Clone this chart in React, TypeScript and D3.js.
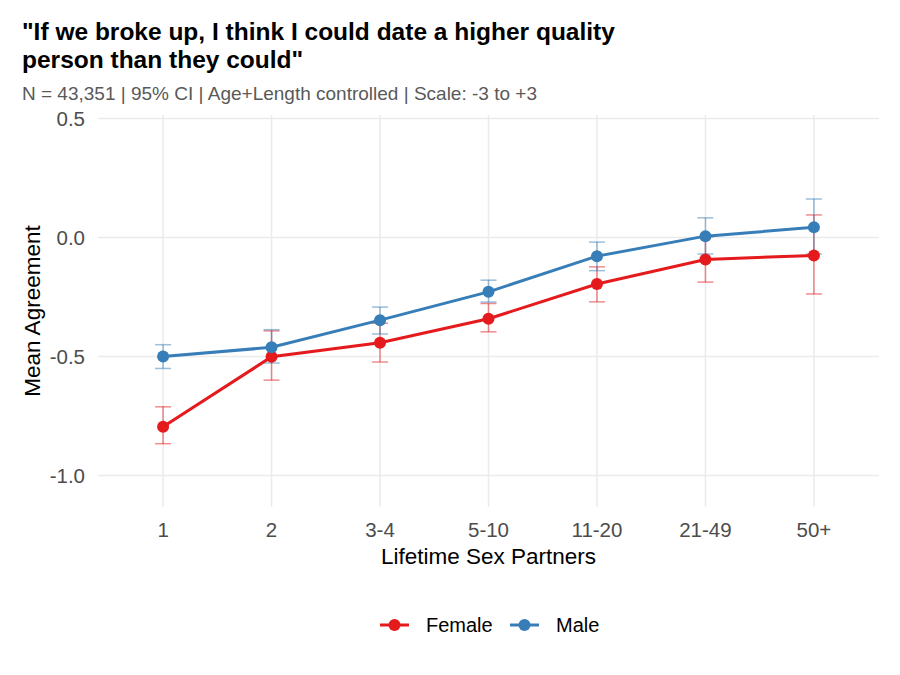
import * as d3 from "d3";
import { useEffect, useRef } from "react";

const partnerBins = ["1", "2", "3-4", "5-10", "11-20", "21-49", "50+"];
const femaleMean = [-0.795, -0.501, -0.442, -0.341, -0.195, -0.092, -0.075];
const femaleLow = [-0.866, -0.599, -0.523, -0.396, -0.27, -0.187, -0.237];
const femaleHigh = [-0.711, -0.392, -0.36, -0.277, -0.123, 0.003, 0.095];
const maleMean = [-0.5, -0.461, -0.347, -0.228, -0.078, 0.006, 0.043];
const maleLow = [-0.55, -0.527, -0.405, -0.271, -0.139, -0.069, -0.069];
const maleHigh = [-0.45, -0.387, -0.292, -0.179, -0.019, 0.083, 0.162];
const yTicks = [-1.0, -0.5, 0.0, 0.5];

const seriesList = [
    { name: "Female", color: "#E41A1C", mean: femaleMean, low: femaleLow, high: femaleHigh },
    { name: "Male", color: "#377EB8", mean: maleMean, low: maleLow, high: maleHigh },
];

const W = 900;
const H = 675;
const FONT = "'Liberation Sans', Arial, sans-serif";

const draw = (svgEl: SVGSVGElement) => {
    const svg = d3.select(svgEl);
    svg.selectAll("*").remove();

    const left = 98, right = 879, top = 115, bottom = 507;

    const x = d3.scalePoint<string>().domain(partnerBins).range([left, right]).padding(0.6);
    const y = d3.scaleLinear().domain([-1.132, 0.515]).range([bottom, top]);

    svg.append("rect").attr("width", W).attr("height", H).attr("fill", "#fff");

    // grid
    const grid = svg.append("g").attr("stroke", "#EBEBEB").attr("stroke-width", 1.5);
    grid.selectAll("line.h")
        .data(yTicks)
        .join("line")
        .attr("x1", left).attr("x2", right)
        .attr("y1", (d) => y(d)).attr("y2", (d) => y(d));
    grid.selectAll("line.v")
        .data(partnerBins)
        .join("line")
        .attr("x1", (d) => x(d)!).attr("x2", (d) => x(d)!)
        .attr("y1", top).attr("y2", bottom);

    // y tick labels
    svg.append("g")
        .attr("font-family", FONT)
        .attr("font-size", 20.5)
        .attr("fill", "#4D4D4D")
        .attr("text-anchor", "end")
        .selectAll("text")
        .data(yTicks)
        .join("text")
        .attr("x", 85)
        .attr("y", (d) => y(d))
        .attr("dy", "0.36em")
        .text((d) => d.toFixed(1));

    // x tick labels
    svg.append("g")
        .attr("font-family", FONT)
        .attr("font-size", 20.5)
        .attr("fill", "#4D4D4D")
        .attr("text-anchor", "middle")
        .selectAll("text")
        .data(partnerBins)
        .join("text")
        .attr("x", (d) => x(d)!)
        .attr("y", 537)
        .text((d) => d);

    // error bars
    const capHalf = 8;
    seriesList.forEach((s) => {
        const g = svg.append("g").attr("stroke", s.color).attr("stroke-opacity", 0.5).attr("stroke-width", 1.5);
        partnerBins.forEach((b, i) => {
            const cx = x(b)!;
            g.append("line").attr("x1", cx).attr("x2", cx).attr("y1", y(s.low[i])).attr("y2", y(s.high[i]));
            g.append("line").attr("x1", cx - capHalf).attr("x2", cx + capHalf).attr("y1", y(s.low[i])).attr("y2", y(s.low[i]));
            g.append("line").attr("x1", cx - capHalf).attr("x2", cx + capHalf).attr("y1", y(s.high[i])).attr("y2", y(s.high[i]));
        });
    });

    // lines
    const line = d3
        .line<number>()
        .x((_, i) => x(partnerBins[i])!)
        .y((d) => y(d));
    seriesList.forEach((s) => {
        svg.append("path")
            .attr("d", line(s.mean))
            .attr("fill", "none")
            .attr("stroke", s.color)
            .attr("stroke-width", 3);
    });

    // points
    seriesList.forEach((s) => {
        svg.append("g")
            .attr("fill", s.color)
            .selectAll("circle")
            .data(s.mean)
            .join("circle")
            .attr("cx", (_, i) => x(partnerBins[i])!)
            .attr("cy", (d) => y(d))
            .attr("r", 6);
    });

    // titles
    const title = svg.append("text").attr("font-family", FONT).attr("font-size", 24.5).attr("font-weight", "bold").attr("fill", "#000");
    title.append("tspan").attr("x", 22).attr("y", 40).text("\"If we broke up, I think I could date a higher quality");
    title.append("tspan").attr("x", 22).attr("y", 68).text("person than they could\"");

    svg.append("text")
        .attr("font-family", FONT)
        .attr("font-size", 19)
        .attr("fill", "#595959")
        .attr("x", 22)
        .attr("y", 100)
        .text("N = 43,351 | 95% CI | Age+Length controlled | Scale: -3 to +3");

    svg.append("text")
        .attr("font-family", FONT)
        .attr("font-size", 22.5)
        .attr("text-anchor", "middle")
        .attr("x", (left + right) / 2)
        .attr("y", 564)
        .text("Lifetime Sex Partners");

    svg.append("text")
        .attr("font-family", FONT)
        .attr("font-size", 22.5)
        .attr("text-anchor", "middle")
        .attr("transform", `translate(40,${(top + bottom) / 2}) rotate(-90)`)
        .text("Mean Agreement");

    // legend
    const legendY = 625;
    const legendPos = [
        { key: 380, text: 426 },
        { key: 510, text: 556 },
    ];
    seriesList.forEach((s, i) => {
        const p = legendPos[i];
        const g = svg.append("g");
        g.append("line")
            .attr("x1", p.key).attr("x2", p.key + 29)
            .attr("y1", legendY).attr("y2", legendY)
            .attr("stroke", s.color).attr("stroke-width", 3);
        g.append("circle").attr("cx", p.key + 14.5).attr("cy", legendY).attr("r", 6).attr("fill", s.color);
        g.append("text")
            .attr("font-family", FONT)
            .attr("font-size", 20)
            .attr("x", p.text)
            .attr("y", legendY)
            .attr("dy", "0.36em")
            .text(s.name);
    });
};

export default function App() {
    const svgRef = useRef<SVGSVGElement>(null);
    useEffect(() => {
        if (svgRef.current) draw(svgRef.current);
    }, []);
    return (
        <svg
            ref={svgRef}
            width={W}
            height={H}
            style={{ position: "absolute", left: 0, top: 0, display: "block" }}
        />
    );
}
